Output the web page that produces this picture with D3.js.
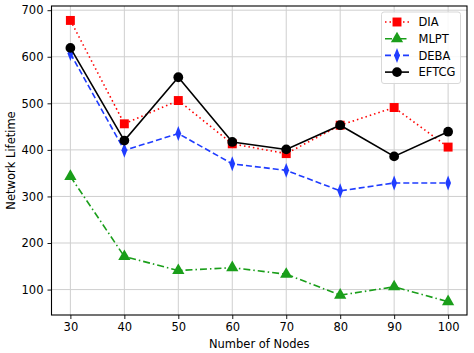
<!DOCTYPE html>
<html><head><meta charset="utf-8">
<script src="https://cdn.jsdelivr.net/npm/d3@7"></script>
<style>body{margin:0;background:#fff}svg{display:block}text{font-family:"DejaVu Sans",sans-serif}</style>
</head><body>
<script>
const nodes = [30, 40, 50, 60, 70, 80, 90, 100];
const dia   = [678, 456, 506, 413, 392, 453, 491, 406];
const mlpt  = [343, 171, 141, 147, 133, 88, 106, 74];
const deba  = [607, 399, 435, 370, 356, 312, 329, 329];
const eftcg = [619, 420, 556, 417, 401, 453, 386, 439];
const yTicks = [100, 200, 300, 400, 500, 600, 700];
const seriesNames = ["DIA", "MLPT", "DEBA", "EFTCG"];

const W = 474, H = 353;
const L = 51.5, R = 467, T = 6, B = 315;
const FS = 11.5;
const svg = d3.select("body").append("svg").attr("width", W).attr("height", H);
const x = d3.scaleLinear().domain([26.5, 103.5]).range([L, R]);
const y = d3.scaleLinear().domain([45.4, 709]).range([B, T]);

// grid
svg.append("g").selectAll("line").data(nodes).join("line")
  .attr("x1", d => x(d)).attr("x2", d => x(d)).attr("y1", T).attr("y2", B)
  .attr("stroke", "#cfcfcf").attr("stroke-width", 1);
svg.append("g").selectAll("line").data(yTicks).join("line")
  .attr("y1", d => y(d)).attr("y2", d => y(d)).attr("x1", L).attr("x2", R)
  .attr("stroke", "#cfcfcf").attr("stroke-width", 1);

const xAxis = svg.append("g").attr("transform", `translate(0,${B})`)
  .call(d3.axisBottom(x).tickValues(nodes).tickSize(4).tickPadding(4));
const yAxis = svg.append("g").attr("transform", `translate(${L},0)`)
  .call(d3.axisLeft(y).tickValues(yTicks).tickSize(4).tickPadding(4));
[xAxis, yAxis].forEach(a => {
  a.select(".domain").remove();
  a.selectAll("text").attr("font-size", FS).attr("fill", "#000").attr("font-family", "DejaVu Sans");
  a.selectAll("line").attr("stroke", "#000").attr("stroke-width", 0.9);
});

const series = [
  {name: seriesNames[0], vals: dia, color: "#ff0000", dash: "1.5,3", width: 1.6, marker: "square"},
  {name: seriesNames[1], vals: mlpt, color: "#1a9e1a", dash: "7,3,1.5,3", width: 1.6, marker: "triangle"},
  {name: seriesNames[2], vals: deba, color: "#1f3cff", dash: "6,3", width: 1.6, marker: "diamond"},
  {name: seriesNames[3], vals: eftcg, color: "#000000", dash: null, width: 1.6, marker: "circle"},
];
const symbols = {
  square: d3.symbol().type(d3.symbolSquare).size(80),
  triangle: d3.symbol().type(d3.symbolTriangle).size(65),
  diamond: d3.symbol().type(d3.symbolDiamond).size(45),
  circle: d3.symbol().type(d3.symbolCircle).size(75),
};
const line = d3.line().x((d, i) => x(nodes[i])).y(d => y(d));

function marker(g, s, cx, cy) {
  return g.append("path").attr("d", symbols[s.marker]()).attr("fill", s.color)
    .attr("transform", `translate(${cx},${cy})` + (s.marker === "diamond" ? " scale(0.8,1.2)" : ""));
}

series.forEach(s => {
  svg.append("path").datum(s.vals).attr("d", line).attr("fill", "none")
    .attr("stroke", s.color).attr("stroke-width", s.width)
    .attr("stroke-dasharray", s.dash);
  const g = svg.append("g");
  s.vals.forEach((v, i) => marker(g, s, x(nodes[i]), y(v)));
});

// frame
svg.append("rect").attr("x", L).attr("y", T).attr("width", R - L).attr("height", B - T)
  .attr("fill", "none").attr("stroke", "#000").attr("stroke-width", 1.1);

// legend
const lg = svg.append("g");
lg.append("rect").attr("x", 381.5).attr("y", 12).attr("width", 79).attr("height", 71.5)
  .attr("rx", 2.5).attr("fill", "#fff").attr("fill-opacity", 0.85).attr("stroke", "#d8d8d8");
series.forEach((s, i) => {
  const cy = 22 + i * 16.7;
  lg.append("line").attr("x1", 385).attr("x2", 409).attr("y1", cy).attr("y2", cy)
    .attr("stroke", s.color).attr("stroke-width", s.width).attr("stroke-dasharray", s.dash);
  marker(lg, s, 397, cy);
  lg.append("text").attr("x", 418.5).attr("y", cy).attr("dy", "0.36em")
    .attr("font-size", FS).text(s.name);
});

svg.append("text").attr("x", (L + R) / 2).attr("y", 348).attr("text-anchor", "middle")
  .attr("font-size", FS).text("Number of Nodes");
svg.append("text").attr("transform", `translate(15,${(T + B) / 2}) rotate(-90)`)
  .attr("text-anchor", "middle").attr("font-size", FS).text("Network Lifetime");
</script>
</body></html>
